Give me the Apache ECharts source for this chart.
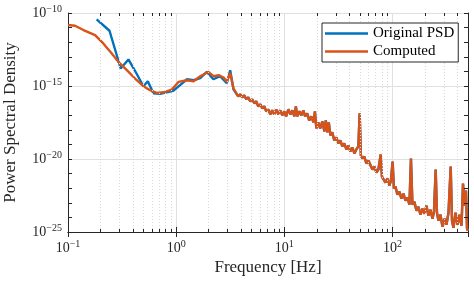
<!DOCTYPE html>
<html>
<head>
<meta charset="utf-8">
<title>PSD</title>
<script src="https://cdn.jsdelivr.net/npm/echarts@6/dist/echarts.min.js"></script>
<style>
  body { margin: 0; background: #fff; }
  #main { width: 474px; height: 282px; }
</style>
</head>
<body>
<div id="main"></div>
<script>
// [frequency Hz, PSD]
var originalLow = [
  [0.184, 3.69e-11], [0.242, 6.07e-12], [0.307, 1.58e-14], [0.362, 6.58e-14], [0.43, 7.18e-15],
  [0.498, 9.62e-16], [0.547, 2.12e-15], [0.616, 3.18e-16], [0.71, 2.93e-16], [0.94, 4.71e-16],
  [1.13, 1.47e-15], [1.26, 2.91e-15], [1.45, 2.48e-15], [1.67, 3.41e-15], [1.92, 9.25e-15],
  [2.21, 2.91e-15], [2.55, 4.68e-15], [2.94, 1.55e-15], [3.16, 1.21e-14], [3.39, 5.98e-16]
];
var computedLow = [
  [0.1, 1.50e-11], [0.116, 1.34e-11], [0.139, 6.79e-12], [0.178, 3.08e-12], [0.212, 8.26e-13],
  [0.254, 1.70e-13], [0.292, 4.50e-14], [0.35, 1.21e-14], [0.417, 3.25e-15], [0.498, 9.62e-16],
  [0.574, 5.11e-16], [0.663, 3.33e-16], [0.763, 3.72e-16], [0.912, 5.70e-16], [1.05, 1.90e-15],
  [1.26, 2.48e-15], [1.45, 2.12e-15], [1.67, 4.68e-15], [1.86, 7.18e-15], [1.99, 9.25e-15],
  [2.21, 4.68e-15], [2.47, 5.48e-15], [2.75, 3.81e-15], [2.94, 1.90e-15], [3.16, 7.89e-15],
  [3.24, 1.03e-14], [3.39, 6.68e-16]
];
// above ~3.7 Hz both curves lie on top of each other
var sharedHigh = [
  [3.75, 1.97e-16], [3.91, 2.71e-16], [4.08, 1.69e-16], [4.26, 2.31e-16], [4.45, 1.23e-16],
  [4.64, 1.69e-16], [4.84, 8.95e-17], [5.05, 1.23e-16], [5.28, 6.52e-17], [5.50, 8.95e-17],
  [5.74, 4.06e-17], [6.00, 5.57e-17], [6.26, 2.96e-17], [6.53, 4.06e-17], [6.81, 1.84e-17],
  [7.11, 2.52e-17], [7.42, 1.14e-17], [7.74, 2.15e-17], [8.08, 1.14e-17], [8.43, 2.52e-17],
  [8.80, 1.14e-17], [9.18, 2.15e-17], [9.58, 9.77e-18], [10.0, 1.84e-17], [10.4, 8.34e-18],
  [10.9, 2.52e-17], [11.4, 1.14e-17], [11.9, 2.15e-17], [12.4, 8.34e-18], [12.8, 4.06e-17],
  [13.2, 8.34e-18], [13.8, 1.84e-17], [14.4, 9.77e-18], [15.0, 2.15e-17], [15.6, 8.34e-18],
  [16.3, 1.34e-17], [17.0, 4.43e-18], [17.8, 8.34e-18], [18.6, 3.22e-18], [19.2, 1.84e-17],
  [19.8, 1.25e-18], [20.6, 3.22e-18], [21.5, 1.25e-18], [22.5, 3.78e-18], [23.5, 7.76e-19],
  [24.2, 4.43e-18], [25.0, 6.62e-19], [25.8, 3.22e-18], [26.7, 4.12e-19], [27.8, 6.62e-19],
  [29.0, 1.87e-19], [30.3, 3.0e-19], [31.6, 1.16e-19], [33.0, 1.87e-19], [34.4, 7.23e-20],
  [35.9, 1.16e-19], [37.5, 4.50e-20], [39.1, 8.47e-20], [40.8, 3.27e-20], [42.6, 6.17e-20],
  [44.5, 2.39e-20], [46.4, 4.50e-20], [48.4, 7.23e-20], [49.8, 1.34e-17], [51.1, 1.74e-20],
  [52.8, 1.08e-20], [55.0, 1.49e-20], [57.4, 4.90e-21], [60.0, 7.89e-21], [62.6, 6.73e-21],
  [65.3, 1.90e-21], [68.1, 3.05e-21], [71.1, 1.18e-21], [74.2, 1.90e-21], [77.9, 2.04e-20],
  [80.0, 6.27e-22], [82.5, 8.59e-22], [86.1, 2.43e-22], [89.9, 4.57e-22], [93.8, 1.51e-22],
  [96.8, 3.33e-22], [100.4, 6.73e-21], [103.3, 9.38e-23], [106.6, 1.29e-22], [111.2, 3.63e-23],
  [116.1, 5.83e-23], [121.2, 1.93e-23], [126.5, 4.26e-23], [131.9, 1.40e-23], [137.7, 2.26e-23],
  [143.7, 7.46e-24], [148.4, 1.08e-20], [153.2, 7.46e-24], [159.8, 1.20e-23], [166.8, 2.88e-24],
  [174.1, 5.43e-24], [181.7, 1.53e-24], [189.6, 3.96e-24], [197.9, 1.79e-24], [206.5, 6.37e-24],
  [215.4, 1.31e-24], [224.9, 3.38e-24], [234.6, 8.13e-25], [242.3, 2.46e-24], [251.2, 1.90e-21],
  [258.2, 2.10e-24], [266.7, 5.93e-25], [278.3, 1.53e-24], [290.4, 2.30e-25], [303.0, 8.13e-25],
  [316.2, 3.15e-25], [330.0, 2.10e-24], [345.9, 3.05e-21], [355.6, 5.93e-25], [367.1, 1.96e-25],
  [383.1, 2.10e-24], [399.9, 3.15e-25], [417.3, 1.53e-24], [435.5, 2.69e-25], [449.6, 2.07e-22],
  [464.2, 6.37e-24], [479.3, 6.84e-23], [489.6, 1.67e-25], [500, 1.2e-25]
];
var seriesNames = ['Original PSD', 'Computed'];
var minorFreqs = [0.2, 0.3, 0.4, 0.5, 0.6, 0.7, 0.8, 0.9, 2, 3, 4, 5, 6, 7, 8, 9,
                  20, 30, 40, 50, 60, 70, 80, 90, 200, 300, 400];
var yDecades = [1e-24, 1e-23, 1e-22, 1e-21, 1e-19, 1e-18, 1e-17, 1e-16,
                1e-14, 1e-13, 1e-12, 1e-11];
var xMin = 0.1, xMax = 500, yMin = 1e-25, yMax = 1e-10;
// a hair below 1e-25 so the log scale keeps 1e-25 as a real tick
var yAxisMin = 0.999e-25;

var serif = 'Liberation Serif';
var ink = '#262626';

function powLabel(v, step) {
  var l = Math.log10(v);
  var e = Math.round(l);
  if (Math.abs(l - e) > 1e-6 || e % step !== 0) return '';
  return '{b|10}{s|' + (e < 0 ? '\u2212' : '') + Math.abs(e) + '}';
}
var richPow = {
  b: { fontFamily: serif, fontSize: 14, color: ink },
  s: { fontFamily: serif, fontSize: 10, color: ink, padding: [0, 0, 8, 0] }
};

// minor grid + minor ticks (log axes only give major ticks here)
var minorGrid = minorFreqs.map(function (f) { return { xAxis: f }; });
var decadeGrid = yDecades.map(function (p) { return { yAxis: p }; });
var minorTicks = [];
minorFreqs.forEach(function (f) {
  minorTicks.push([{ coord: [f, yMin] }, { coord: [f, 1.6e-25] }]);
  minorTicks.push([{ coord: [f, yMax] }, { coord: [f, 6.2e-11] }]);
});
yDecades.forEach(function (p) {
  minorTicks.push([{ coord: [xMin, p] }, { coord: [0.109, p] }]);
  minorTicks.push([{ coord: [xMax, p] }, { coord: [459, p] }]);
});

var myChart = echarts.init(document.getElementById('main'));
var option = {
  animation: false,
  backgroundColor: '#fff',
  grid: { left: 68, right: 6, top: 13, bottom: 50, containLabel: false, outerBoundsMode: 'none' },
  legend: {
    data: [{ name: seriesNames[0], icon: 'rect' }, { name: seriesNames[1], icon: 'rect' }],
    orient: 'vertical',
    left: 322, top: 23,
    itemWidth: 43, itemHeight: 2.5, itemGap: 3,
    padding: [3, 4, 3, 3],
    borderColor: ink, borderWidth: 1, borderRadius: 0,
    backgroundColor: '#fff',
    textStyle: { fontFamily: serif, fontSize: 15, color: '#000' },
    z: 10
  },
  xAxis: [{
    type: 'log', logBase: 10, min: xMin, max: xMax,
    name: 'Frequency [Hz]', nameLocation: 'middle', nameGap: 27, nameMoveOverlap: false,
    nameTextStyle: { fontFamily: serif, fontSize: 17, color: ink },
    axisLine: { show: true, lineStyle: { color: ink, width: 1 } },
    axisTick: { show: true, inside: true, length: 5, interval: 0, lineStyle: { color: ink } },
    axisLabel: { interval: 0, margin: 7, showMinLabel: true, hideOverlap: false,
      formatter: function (v) { return powLabel(v, 1); }, rich: richPow },
    splitLine: { show: true, interval: 0, lineStyle: { color: '#e0e0e0', width: 1 } }
  }, {
    type: 'log', logBase: 10, min: xMin, max: xMax, position: 'top',
    axisLine: { show: true, lineStyle: { color: ink, width: 1 } },
    axisTick: { show: true, inside: true, length: 5, interval: 0, lineStyle: { color: ink } },
    axisLabel: { show: false },
    splitLine: { show: false }
  }],
  // base 1e5 puts the labelled ticks at 1e-25, 1e-20, 1e-15, 1e-10
  yAxis: [{
    type: 'log', logBase: 1e5, min: yAxisMin, max: yMax, splitNumber: 3,
    name: 'Power Spectral Density', nameLocation: 'middle', nameGap: 49, nameMoveOverlap: false,
    nameTextStyle: { fontFamily: serif, fontSize: 17, color: ink },
    axisLine: { show: true, lineStyle: { color: ink, width: 1 } },
    axisTick: { show: true, inside: true, length: 4, interval: 0, lineStyle: { color: ink } },
    axisLabel: { interval: 0, margin: 6, showMinLabel: true, showMaxLabel: true, hideOverlap: false,
      formatter: function (v) { return powLabel(v, 5); }, rich: richPow },
    splitLine: { show: true, interval: 0, lineStyle: { color: '#e0e0e0', width: 1 } }
  }, {
    type: 'log', logBase: 1e5, min: yAxisMin, max: yMax, splitNumber: 3, position: 'right',
    axisLine: { show: true, lineStyle: { color: ink, width: 1 } },
    axisTick: { show: true, inside: true, length: 4, interval: 0, lineStyle: { color: ink } },
    axisLabel: { show: false },
    splitLine: { show: false }
  }],
  series: [{
    name: 'minor grid', type: 'line', data: [], z: 1, silent: true,
    xAxisIndex: 0, yAxisIndex: 0,
    markLine: {
      silent: true, symbol: ['none', 'none'], label: { show: false },
      lineStyle: { color: '#dadada', type: [1, 2], width: 1 },
      data: minorGrid
    }
  }, {
    name: 'decade grid', type: 'line', data: [], z: 1, silent: true,
    xAxisIndex: 0, yAxisIndex: 0,
    markLine: {
      silent: true, symbol: ['none', 'none'], label: { show: false },
      lineStyle: { color: '#e0e0e0', type: 'solid', width: 1 },
      data: decadeGrid
    }
  }, {
    name: 'minor ticks', type: 'line', data: [], z: 6, silent: true,
    xAxisIndex: 0, yAxisIndex: 0,
    markLine: {
      silent: true, symbol: ['none', 'none'], label: { show: false },
      lineStyle: { color: ink, type: 'solid', width: 1 },
      data: minorTicks
    }
  }, {
    name: seriesNames[0], type: 'line', z: 3,
    xAxisIndex: 0, yAxisIndex: 0,
    data: originalLow.concat(sharedHigh),
    showSymbol: false, symbol: 'none',
    itemStyle: { color: '#0072BD' },
    lineStyle: { color: '#0072BD', width: 2.4 }
  }, {
    name: seriesNames[1], type: 'line', z: 4,
    xAxisIndex: 0, yAxisIndex: 0,
    data: computedLow.concat(sharedHigh),
    showSymbol: false, symbol: 'none',
    itemStyle: { color: '#D95319' },
    lineStyle: { color: '#D95319', width: 2.4 }
  }]
};
myChart.setOption(option);
</script>
</body>
</html>
